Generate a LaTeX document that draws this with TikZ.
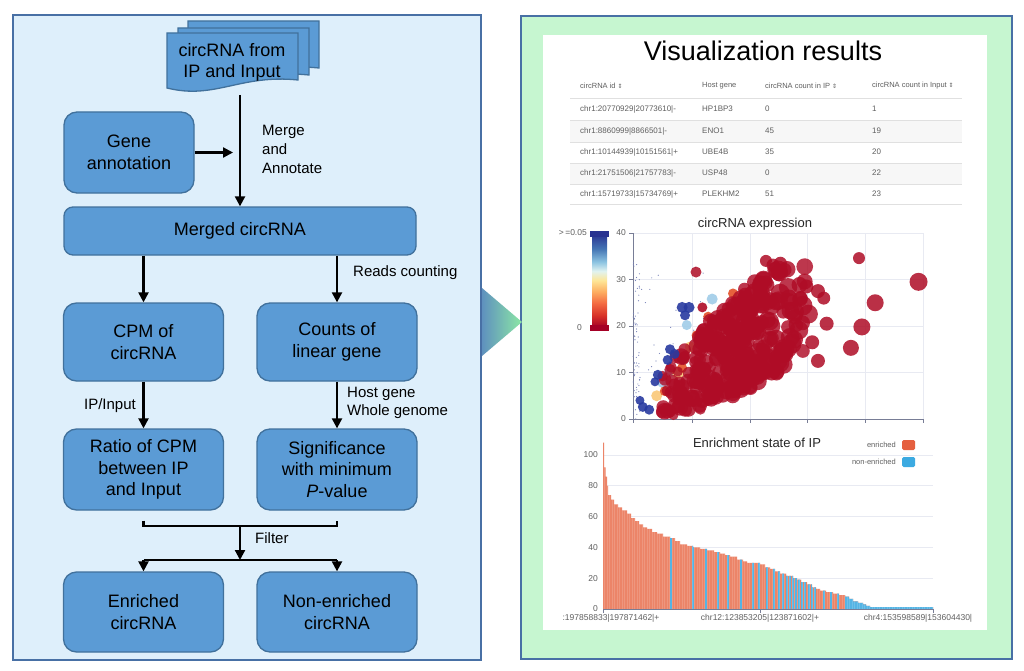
\documentclass[tikz,border=0pt]{standalone}
\usepackage{fontspec}
\setmainfont{Liberation Sans}
\newfontfamily\dvs{DejaVu Sans}
\usetikzlibrary{arrows.meta}
\definecolor{panelL}{RGB}{222,239,251}
\definecolor{panelR}{RGB}{198,246,208}
\definecolor{panelB}{RGB}{72,112,165}
\definecolor{boxF}{RGB}{91,155,213}
\definecolor{boxB}{RGB}{65,113,156}
\definecolor{dred}{RGB}{175,12,38}
\definecolor{barO}{RGB}{236,132,104}
\definecolor{barB}{RGB}{85,180,228}
\definecolor{legO}{RGB}{229,96,63}
\definecolor{legB}{RGB}{60,170,225}
\definecolor{gridc}{RGB}{232,234,242}
\definecolor{axc}{RGB}{120,125,150}
\definecolor{txg}{RGB}{95,95,95}
\definecolor{navy}{RGB}{40,58,160}
\definecolor{lblue}{RGB}{160,205,232}
\definecolor{ylw}{RGB}{250,200,120}
\definecolor{orr}{RGB}{228,80,40}
\definecolor{dotc}{RGB}{120,130,185}
\definecolor{triL}{RGB}{95,145,190}
\definecolor{triR}{RGB}{140,232,165}
\definecolor{cba}{RGB}{165,0,38}
\definecolor{cbb}{RGB}{215,48,39}
\definecolor{cbc}{RGB}{244,109,67}
\definecolor{cbd}{RGB}{253,174,97}
\definecolor{cbe}{RGB}{254,230,150}
\definecolor{cbf}{RGB}{225,243,240}
\definecolor{cbg}{RGB}{140,195,225}
\definecolor{cbh}{RGB}{69,117,180}
\definecolor{cbi}{RGB}{40,50,145}
\pgfdeclareverticalshading{cbarshade}{100bp}{color(0bp)=(cba); color(25bp)=(cba); color(31bp)=(cbb); color(38bp)=(cbc); color(44bp)=(cbd); color(50bp)=(cbe); color(55bp)=(cbf); color(60bp)=(cbg); color(67bp)=(cbh); color(75bp)=(cbi); color(100bp)=(cbi)}
\newcommand\srtic{{\dvs\fontsize{6}{6}\selectfont\ ⇕}}
\tikzset{
  panel/.style={draw=panelB, line width=2pt},
  box/.style={draw=boxB, line width=1.3pt, fill=boxF, rounded corners=13pt, align=center,
    font=\fontsize{18}{21.5}\selectfont, text=black, inner sep=0pt},
  arr/.style={line width=2.2pt, -{Triangle[length=10pt,width=10pt]}},
  brk/.style={line width=2.2pt},
  lbl/.style={font=\fontsize{15}{18.5}\selectfont, align=left, inner sep=0pt},
  th/.style={font=\fontsize{7.5}{9}\selectfont, text=txg, inner sep=0pt, anchor=west},
  td/.style={font=\fontsize{8}{9}\selectfont, text=txg, inner sep=0pt, anchor=west},
  tick/.style={font=\fontsize{8.5}{9}\selectfont, text=txg, inner sep=0pt},
  ctitle/.style={font=\fontsize{13}{15}\selectfont, text=black!85, inner sep=0pt},
  tline/.style={draw=black!12, line width=0.6pt},
  docs/.style={draw=boxB, line width=1.3pt, fill=boxF}
}
\begin{document}
\begin{tikzpicture}[x=1pt,y=-1pt]
\useasboundingbox (0,0) rectangle (1024,671);
\fill[white] (0,0) rectangle (1024,671);
% panels
\draw[panel, fill=panelL] (13,15) rectangle (481,660);
\draw[panel, fill=panelR] (521,16) rectangle (1012,659);
\fill[white] (543,35) rectangle (987,630);
\shade[left color=triL, right color=triR] (482,288) -- (522,322) -- (482,356) -- cycle;

% ---------- flowchart ----------
\foreach \dx/\dy in {21/12, 11/5, 0/0}{
  \draw[docs, shift={(\dx,-\dy)}] (167,33) -- (298,33) -- (298,80) .. controls (240,74) and (215,100) .. (167,88) -- cycle;
}
\node[align=center, font=\fontsize{18}{21}\selectfont, inner sep=0pt] (doc) at (232,62) {circRNA from\\IP and Input};
\coordinate (docb) at (240,95);

\node[box, minimum width=130pt, minimum height=81pt] (gene) at (129,152.5) {Gene\\annotation};
\node[box, rounded corners=9pt, minimum width=352pt, minimum height=48pt] (merged) at (240,231) {Merged circRNA};
\node[box, minimum width=160pt, minimum height=78pt] (cpm) at (143.5,342) {CPM of\\circRNA};
\node[box, minimum width=160pt, minimum height=78pt] (counts) at (337,342) {Counts of\\linear gene};
\node[box, minimum width=160pt, minimum height=81pt] (ratio) at (143.5,469.5) {Ratio of CPM\\between IP\\and Input};
\node[box, minimum width=160pt, minimum height=81pt] (sig) at (337,469.5) {Significance\\with minimum\\\textit{P}-value};
\node[box, minimum width=160pt, minimum height=80pt] (enr) at (143.5,612) {Enriched\\circRNA};
\node[box, minimum width=160pt, minimum height=80pt] (non) at (337,612) {Non-enriched\\circRNA};

\draw[arr] (docb) -- (docb |- merged.north);
\coordinate (geneT) at (233,152.5);
\draw[arr] (gene.east) -- (geneT);
\draw[arr] (merged.south -| cpm.north) -- (cpm.north);
\draw[arr] (merged.south -| counts.north) -- (counts.north);
\draw[arr] (cpm.south) -- (ratio.north);
\draw[arr] (counts.south) -- (sig.north);
\draw[brk] ([yshift=-10pt]ratio.south) -- ++(0,5) -| ([yshift=-10pt]sig.south);
\coordinate (fT) at (240,525);
\coordinate (fB) at (240,560);
\draw[arr] (fT) -- (fB);
\path (enr.north) ++(0,-11) coordinate (fL);
\path (non.north) ++(0,-11) coordinate (fR);
\draw[brk] (fL) -- (fR);
\draw[arr] (fL) -- (enr.north);
\draw[arr] (fR) -- (non.north);

\node[lbl, anchor=west, font=\fontsize{15}{19}\selectfont] (mlab) at (262,149) {Merge\\and\\Annotate};
\node[lbl, anchor=west] (rlab) at (353,273) {Reads counting};
\node[lbl, anchor=east] (iplab) at (136,406) {IP/Input};
\node[lbl, anchor=west] (hlab) at (347,403) {Host gene\\Whole genome};
\node[lbl, anchor=west] (flab) at (255,538) {Filter};

% ---------- right panel ----------
\node[font=\fontsize{27}{30}\selectfont, inner sep=0pt] (title) at (763,51) {Visualization results};

% table
\fill[black!3] (570,120) rectangle (962,142);
\fill[black!3] (570,163) rectangle (962,184);
\foreach \yy in {98,120,142,163,184,204} \draw[tline] (570,\yy) -- (962,\yy);
\node[th] (h1) at (580,86) {circRNA id\srtic};
\node[th] (h2) at (702,86) {Host gene};
\node[th] (h3) at (765,86) {circRNA count in IP\srtic};
\node[th] (h4) at (872,86) {circRNA count in Input\srtic};
\foreach \a/\b/\c/\d/\yy [count=\k] in {chr1:20770929|20773610|-/HP1BP3/0/1/109,
  chr1:8860999|8866501|-/ENO1/45/19/131,
  chr1:10144939|10151561|+/UBE4B/35/20/152,
  chr1:21751506|21757783|-/USP48/0/22/173,
  chr1:15719733|15734769|+/PLEKHM2/51/23/194}{
  \node[td] (ra\k) at (580,\yy) {\a};
  \node[td] (rb\k) at (702,\yy) {\b};
  \node[td] (rc\k) at (765,\yy) {\c};
  \node[td] (rd\k) at (872,\yy) {\d};
}

% scatter plot
\node[ctitle] (stitle) at (755,224) {circRNA expression};
\foreach \gx in {692,750,807,865,923} \draw[gridc, line width=0.7pt] (\gx,233) -- (\gx,419);
\foreach \gy in {233,279.5,326,372.5} \draw[gridc, line width=0.7pt] (633,\gy) -- (923,\gy);
\draw[axc, line width=0.7pt] (633,233) -- (633,419) -- (923,419);
\foreach \gx in {633,692,750,807,865,923} \draw[axc, line width=0.7pt] (\gx,419) -- (\gx,423);
\foreach \v/\gy in {0/419,10/372.5,20/326,30/279.5,40/233}{
  \draw[axc, line width=0.7pt] (629,\gy) -- (633,\gy);
  \node[tick, anchor=east] (sy\v) at (626,\gy) {\v};
}
% colorbar
\shade[shading=cbarshade] (592,234) rectangle (607,327);
\fill[cbi] (590,231) rectangle (609,237);
\fill[cba] (590,325) rectangle (609,331);
\node[tick, anchor=east] (cbt) at (587,233) {>\,=0.05};
\node[tick, anchor=east] (cbz) at (582,328) {0};
% tiny dots
\pgfmathsetseed{311}
\foreach \i in {1,...,70}{
  \pgfmathsetmacro\X{rnd*0.12}
  \pgfmathsetmacro\Y{rnd*34}
  \fill[dotc] ({633+\X*57.8},{419-\Y*4.65}) circle[radius=0.6];
}
\foreach \i in {1,...,25}{
  \pgfmathsetmacro\X{0.1+rnd*1.2}
  \pgfmathsetmacro\Y{8+rnd*27}
  \fill[dotc] ({633+\X*57.8},{419-\Y*4.65}) circle[radius=0.6];
}
% coloured bubbles
\foreach \X/\Y/\R/\c in {1.37/25.8/5.5/lblue, 0.93/20.2/5/lblue, 0.78/13.3/5/lblue, 0.52/8/6/lblue, 0.62/10/5/lblue,
  0.99/15.5/5.5/ylw, 0.78/10/6/ylw, 0.41/5/5.5/ylw,
  1.73/27/5/orr, 1.3/22/5/orr, 1.1/18/5/orr, 0.55/6/5/orr, 0.85/11/5/orr, 1.2/24/5/dred}{
  \fill[\c, fill opacity=0.9] ({633+\X*57.8},{419-\Y*4.65}) circle[radius=\R];
}
% red bubbles
\pgfmathsetseed{4242}
\foreach \i in {1,...,330}{
  \pgfmathsetmacro\X{0.45+1.35*(rnd+rnd)}
  \pgfmathsetmacro\lo{max(0.5,5.5*\X-4.5)}
  \pgfmathsetmacro\hi{min(34,12*\X+5)}
  \pgfmathsetmacro\Y{\lo+rnd*(\hi-\lo)}
  \pgfmathsetmacro\R{4.5+rnd*3.5+0.7*\X}
  \fill[dred, fill opacity=0.82] ({633+\X*57.8},{419-\Y*4.65}) circle[radius=\R];
}
\foreach \X/\Y/\R in {4.94/29.5/9, 4.19/25/8.5, 3.96/19.8/8.5, 3.77/15.3/8, 3.91/34.6/6, 1.09/31.6/5.5,
  3.2/27.5/7, 3.0/28.5/7, 2.9/26/7, 3.3/26/6.5, 2.55/33.5/6.5, 2.3/34/6, 3.35/20.5/7, 3.1/16.5/7, 3.2/12.5/7,
  2.8/22/7.5, 2.6/14/7.5, 2.4/10/8, 1.6/6/8, 1.2/4/7.5, 0.9/2/7, 0.5/1.5/6}{
  \fill[dred, fill opacity=0.85] ({633+\X*57.8},{419-\Y*4.65}) circle[radius=\R];
}
\foreach \X/\Y/\R in {0.85/24/5.5, 0.97/24/5.5, 0.9/22.3/5, 0.64/15/5, 0.72/14/5, 0.6/12.7/5,
  0.43/9.5/5, 0.38/8/4.5, 0.17/2.6/5, 0.12/4/4.5, 0.28/2/5}{
  \fill[navy, fill opacity=0.9] ({633+\X*57.8},{419-\Y*4.65}) circle[radius=\R];
}

% bar chart
\node[ctitle] (btitle) at (757,443) {Enrichment state of IP};
\foreach \v in {20,40,60,80,100} \draw[gridc, line width=0.7pt] (603,{609-1.54*\v}) -- (933,{609-1.54*\v});
\foreach \v in {0,20,40,60,80,100} \node[tick, anchor=east] (by\v) at (598,{609-1.54*\v}) {\v};
\begin{scope}
\clip (603,609) -- (603,442.7)
  \foreach \p/\v in {604/92,605.5/86,607/80,608/74,611/71,614/68,618/66,622/64,627/62,631/59,635/57,639/55,643/53,647/52,652/50,657/49,663/47,670/46,675/44,680/42,687/41,693/40,700/39,707/38,714/37,720/36,725/35,730/34,737/32,743/31,747/30,760/29,765/27,770/26,775/24.5,780/23,786/21.5,793/20,797/19,801/17.5,807/16,812/14,816/13,820/12,826/11,833/10,839/9,845/8,849/6.5,853/5,858/4,863/3,866/2,870/1.2}{ -| (\p,{609-1.54*\v}) }
  -| (933,609) -- cycle;
\fill[barO] (600,440) rectangle (935,610);
\foreach \s in {670,692,705,717,727,740,752,758,766,773,778,782,786,789,792,795,798,801,804,808,811,814,823,830,837}
  \fill[barB] (\s,440) rectangle ++(1.6,170);
\fill[barB] (845,440) rectangle (935,610);
\foreach \s in {604.5,607,...,933} \draw[white, opacity=0.15, line width=0.5pt] (\s,440) -- (\s,610);
\end{scope}
\draw[axc, line width=0.7pt] (603,609) -- (933,609);
\foreach \gx in {603,760,933} \draw[axc, line width=0.7pt] (\gx,609) -- (\gx,613);
\node[tick, anchor=north] (bx1) at (611,614) {:197858833|197871462|+};
\node[tick, anchor=north] (bx2) at (760,614) {chr12:123853205|123871602|+};
\node[tick, anchor=north] (bx3) at (918,614) {chr4:153598589|153604430|};
% legend
\node[tick, anchor=east, font=\fontsize{7.5}{9}\selectfont] (leg1) at (896,445) {enriched};
\fill[legO, rounded corners=1.5pt] (902,440) rectangle (915,450);
\node[tick, anchor=east, font=\fontsize{7.5}{9}\selectfont] (leg2) at (896,462) {non-enriched};
\fill[legB, rounded corners=1.5pt] (902,457) rectangle (915,467);
\end{tikzpicture}
\end{document}
